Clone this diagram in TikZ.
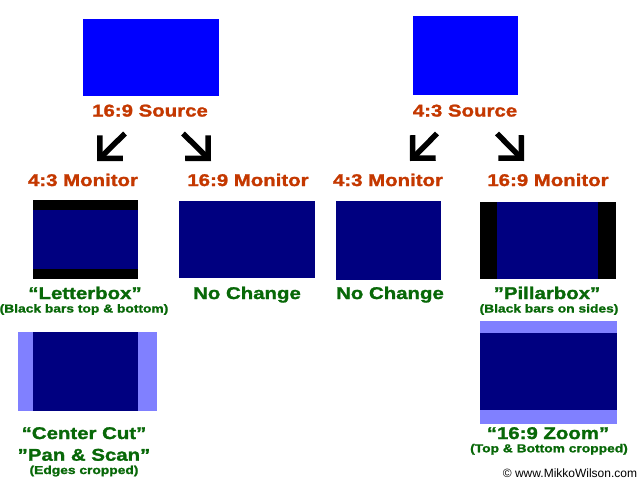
\documentclass[tikz,border=0pt]{standalone}
\usepackage{fontspec}
\usetikzlibrary{arrows.meta}
\newfontfamily\heavyfont{Liberation Sans}[FakeStretch=1.2,FakeBold=1.5]
\newfontfamily\plainfont{Liberation Sans}
\definecolor{srcblue}{RGB}{0,0,255}
\definecolor{picnavy}{RGB}{0,0,128}
\definecolor{cropblue}{RGB}{128,128,255}
\definecolor{srcred}{RGB}{196,56,0}
\definecolor{resgreen}{RGB}{8,104,8}
\tikzset{
  head/.style={anchor=base, inner sep=0pt, text=srcred,
    font=\heavyfont\bfseries\fontsize{17}{17}\selectfont},
  result/.style={anchor=base, inner sep=0pt, text=resgreen,
    font=\heavyfont\bfseries\fontsize{17}{17}\selectfont},
  remark/.style={anchor=base, inner sep=0pt, text=resgreen,
    font=\heavyfont\bfseries\fontsize{11.5}{11.5}\selectfont},
  turn/.style={line width=5.5pt,
    -{Straight Barb[angle=90:23pt, line join=miter, line cap=butt]}},
}
\begin{document}
\begin{tikzpicture}[x=1pt,y=-1pt]
\useasboundingbox (0,0) rectangle (640,480);
% sources
\fill[srcblue] (83,19) rectangle (219,96);
\fill[srcblue] (413,16) rectangle (518,95);
\node[head] (src169) at (150,116.5) {16:9 Source};
\node[head] (src43) at (465,116.5) {4:3 Source};
% arrows
\coordinate (a1s) at (125,133.5);
\coordinate (a1e) at (97,161);
\coordinate (a2s) at (183,133.5);
\coordinate (a2e) at (211,161);
\coordinate (a3s) at (437,133.5);
\coordinate (a3e) at (410,161);
\coordinate (a4s) at (497,133.5);
\coordinate (a4e) at (524,161);
\draw[turn] (a1s) -- (a1e);
\draw[turn] (a2s) -- (a2e);
\draw[turn] (a3s) -- (a3e);
\draw[turn] (a4s) -- (a4e);
\node[head] (mon43a) at (83,186) {4:3 Monitor};
\node[head] (mon169a) at (248,186) {16:9 Monitor};
\node[head] (mon43b) at (388,186) {4:3 Monitor};
\node[head] (mon169b) at (548,186) {16:9 Monitor};
% letterbox
\fill[black] (33,200) rectangle (138,279);
\fill[picnavy] (33,210) rectangle (138,269);
\node[result] (lbox) at (85,299) {“Letterbox”};
\node[remark] (lboxnote) at (84,312.5) {(Black bars top \& bottom)};
% no change
\fill[picnavy] (179,201) rectangle (315,278);
\node[result] (same169) at (247,299) {No Change};
\fill[picnavy] (336,201) rectangle (441,280);
\node[result] (same43) at (390,299) {No Change};
% pillarbox
\fill[black] (480,202) rectangle (616,279);
\fill[picnavy] (497,202) rectangle (598,279);
\node[result] (pbox) at (547,299) {”Pillarbox”};
\node[remark] (pboxnote) at (549,312.5) {(Black bars on sides)};
% center cut
\fill[cropblue] (18,332) rectangle (157,411);
\fill[picnavy] (33,332) rectangle (138,411);
\node[result] (ccut) at (84,439) {“Center Cut”};
\node[result] (pscan) at (84,460.7) {”Pan \& Scan”};
\node[remark] (ccutnote) at (84,474) {(Edges cropped)};
% zoom
\fill[cropblue] (480,321) rectangle (617,424);
\fill[picnavy] (480,333) rectangle (617,410);
\node[result] (zoom) at (548,439) {“16:9 Zoom”};
\node[remark] (zoomnote) at (549,452.3) {(Top \& Bottom cropped)};
\node[anchor=base, inner sep=0pt, font=\plainfont\fontsize{12}{12}\selectfont] (copy) at (570,477.3) {© www.MikkoWilson.com};
\end{tikzpicture}
\end{document}
